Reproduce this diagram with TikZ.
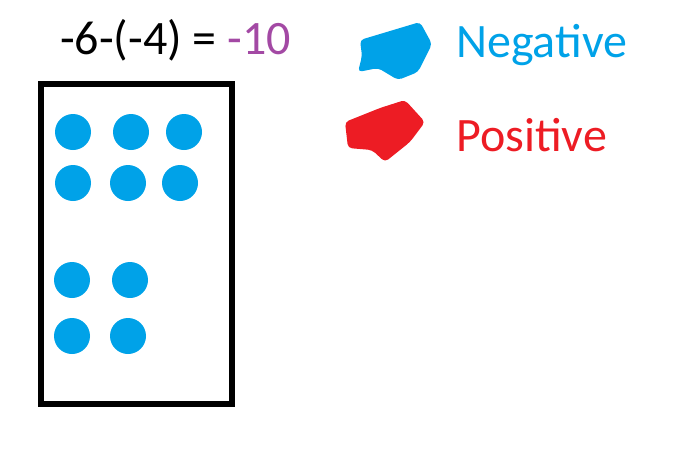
\documentclass[tikz,border=0pt]{standalone}
\usepackage{fontspec}
\setmainfont{Carlito}
\definecolor{nblue}{HTML}{00A2E8}
\definecolor{pred}{HTML}{ED1C24}
\definecolor{purp}{HTML}{A349A4}
\tikzset{dot/.style={circle,fill=nblue,minimum size=36pt,inner sep=0pt},
lbl/.style={anchor=west,inner sep=0pt,font=\fontsize{48pt}{50pt}\selectfont}}
\begin{document}
\begin{tikzpicture}[x=1pt,y=-1pt]
\useasboundingbox (0,0) rectangle (680,458);
\node[lbl] (eq) at (60,40) {-6-(-4) = \textcolor{purp}{-10}};
\draw[line width=6pt] (41,84) rectangle (232,404);
\foreach \x/\y [count=\i] in {73/132,131/132,184/132,73/183,128/183,180/183,72/280,130/280,72/336,128/336}
  \node[dot] (d\i) at (\x,\y) {};
\fill[nblue,rounded corners=4pt] (360,40) -- (420,22) -- (432,44) -- (418,72) -- (398,80) -- (378,68) -- (358,72) -- (362,56) -- cycle;
\fill[pred,rounded corners=4pt] (345,122) -- (380,108) -- (405,100) -- (425,122) -- (410,142) -- (385,162) -- (372,150) -- (348,148) -- cycle;
\node[lbl,text=nblue] (neg) at (456,45) {Negative};
\node[lbl,text=pred] (pos) at (456,135) {Positive};
\end{tikzpicture}
\end{document}
